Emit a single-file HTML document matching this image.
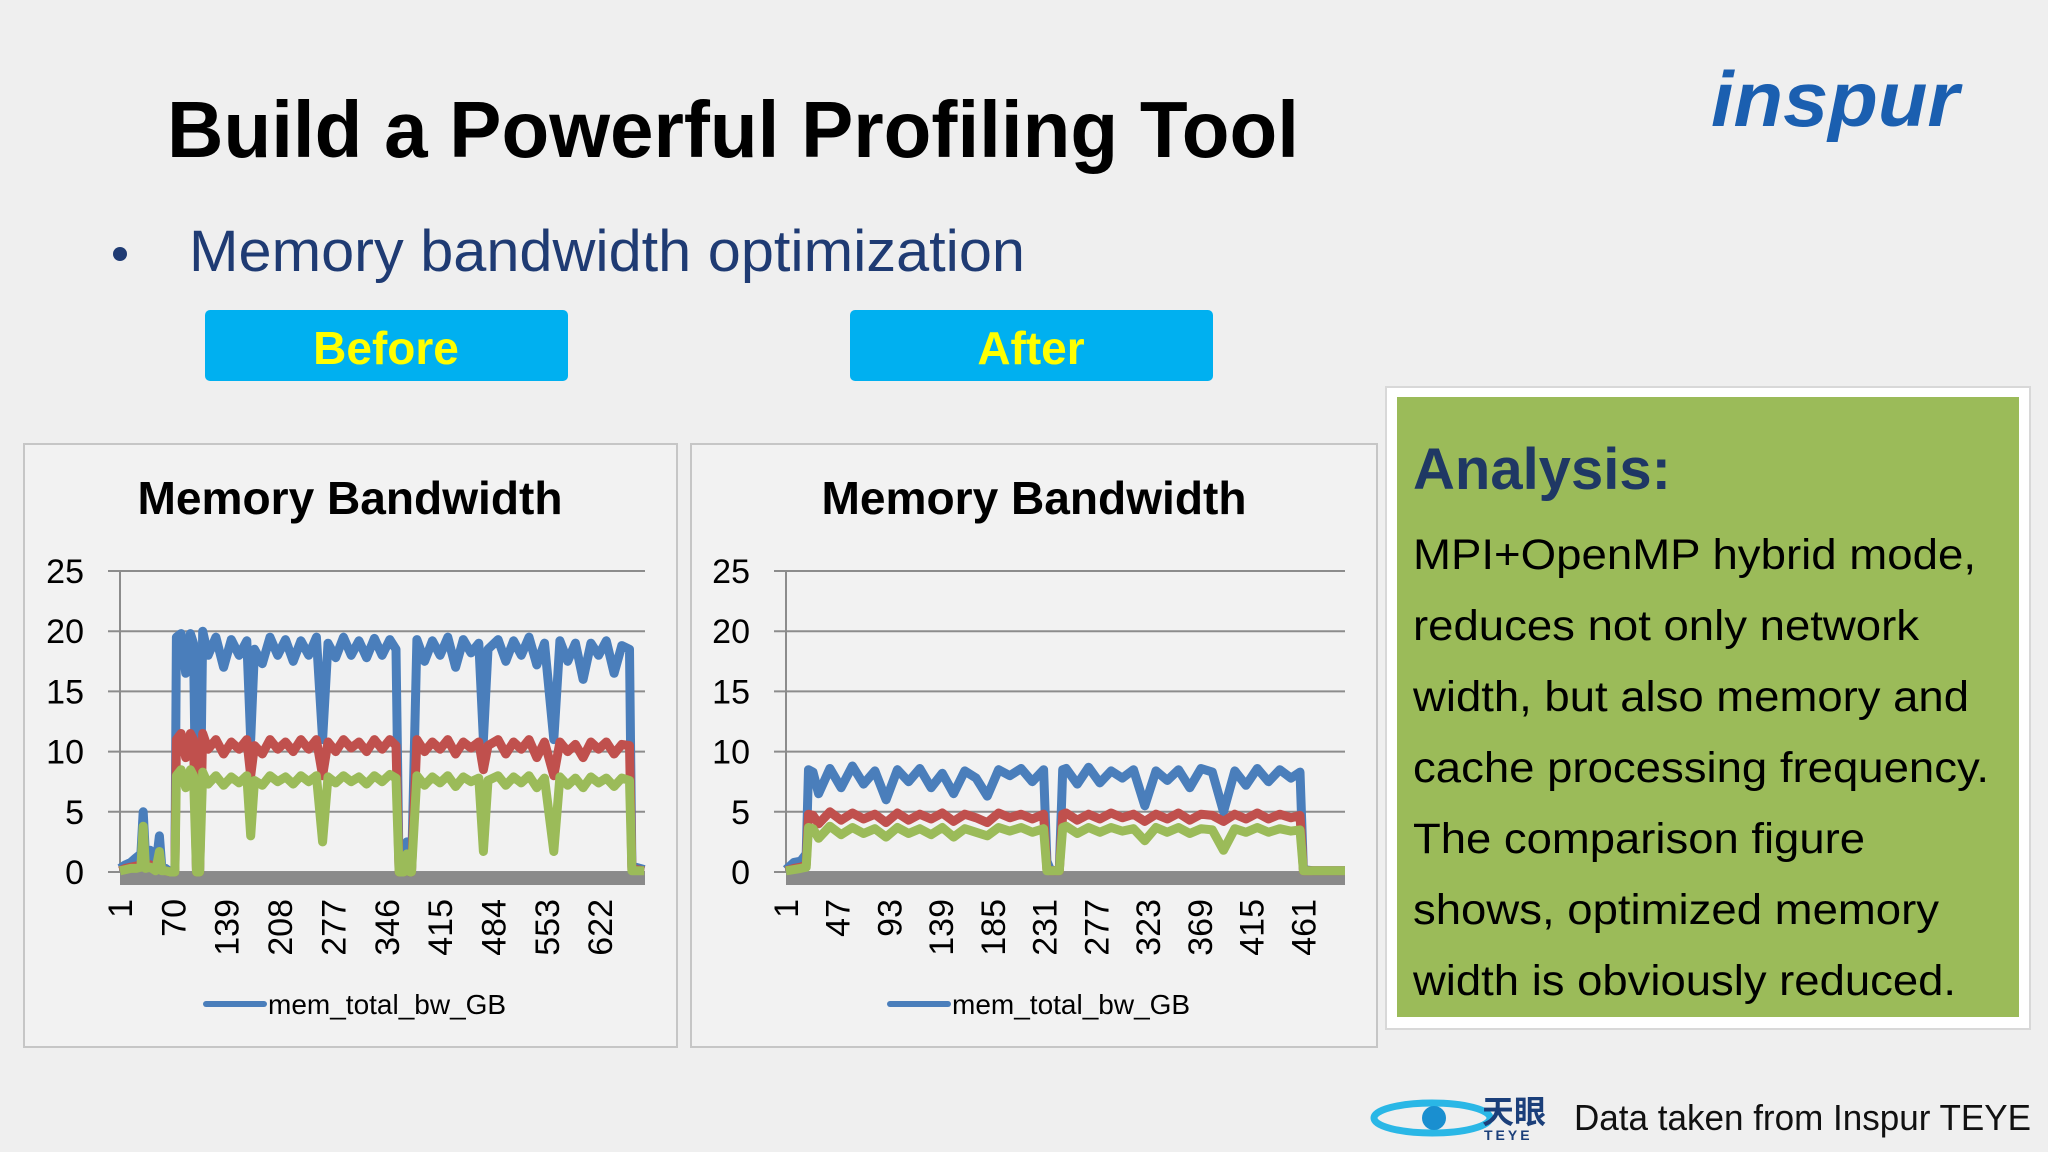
<!DOCTYPE html>
<html><head><meta charset="utf-8"><style>
html,body{margin:0;padding:0;background:#efefef}
svg{display:block}
</style></head><body>
<svg xmlns="http://www.w3.org/2000/svg" width="2048" height="1152" viewBox="0 0 2048 1152">
<rect x="0" y="0" width="2048" height="1152" fill="#efefef"/>
<text x="167" y="157" font-family="Liberation Sans, sans-serif" font-weight="bold" font-size="80" fill="#000" textLength="1132" lengthAdjust="spacingAndGlyphs">Build a Powerful Profiling Tool</text>
<g>
<text x="1711" y="126" font-family="Liberation Sans, sans-serif" font-weight="bold" font-style="italic" font-size="78" fill="#1b5fb0" textLength="248" lengthAdjust="spacingAndGlyphs">inspur</text>
</g>
<circle cx="120" cy="254" r="7" fill="#1f3b73"/>
<text x="189" y="271" font-family="Liberation Sans, sans-serif" font-size="58" fill="#1f3b73" textLength="836" lengthAdjust="spacingAndGlyphs">Memory bandwidth optimization</text>
<g>
<rect x="205" y="310" width="363" height="71" rx="5" fill="#00b0f0"/>
<text x="386" y="364" text-anchor="middle" font-family="Liberation Sans, sans-serif" font-weight="bold" font-size="46" fill="#ffff00">Before</text>
</g>
<g>
<rect x="850" y="310" width="363" height="71" rx="5" fill="#00b0f0"/>
<text x="1031" y="364" text-anchor="middle" font-family="Liberation Sans, sans-serif" font-weight="bold" font-size="46" fill="#ffff00">After</text>
</g>
<rect x="24" y="444" width="653" height="603" fill="#f2f2f2" stroke="#c6c6c6" stroke-width="2"/>
<rect x="691" y="444" width="686" height="603" fill="#f2f2f2" stroke="#c6c6c6" stroke-width="2"/>
<g id="chartL"></g>
<g id="chartR"></g>
<g>
<rect x="1386" y="387" width="644" height="642" fill="#fff" stroke="#d8d8d8" stroke-width="2"/>
<rect x="1397" y="397" width="622" height="620" fill="#9bbb59"/>
<text x="1413" y="489" font-family="Liberation Sans, sans-serif" font-weight="bold" font-size="58" fill="#1f3864">Analysis:</text>
<g font-family="Liberation Sans, sans-serif" font-size="43" fill="#000">
<text x="1413" y="569" textLength="563" lengthAdjust="spacingAndGlyphs">MPI+OpenMP hybrid mode,</text>
<text x="1413" y="640" textLength="506" lengthAdjust="spacingAndGlyphs">reduces not only network</text>
<text x="1413" y="711" textLength="556" lengthAdjust="spacingAndGlyphs">width, but also memory and</text>
<text x="1413" y="782" textLength="576" lengthAdjust="spacingAndGlyphs">cache processing frequency.</text>
<text x="1413" y="853" textLength="452" lengthAdjust="spacingAndGlyphs">The comparison figure</text>
<text x="1413" y="924" textLength="526" lengthAdjust="spacingAndGlyphs">shows, optimized memory</text>
<text x="1413" y="995" textLength="543" lengthAdjust="spacingAndGlyphs">width is obviously reduced.</text>
</g>
</g>
<g>
<ellipse cx="1432" cy="1118" rx="58" ry="15" fill="none" stroke="#2ab7e6" stroke-width="7"/>
<circle cx="1434" cy="1118" r="12" fill="#1a8fd0"/>
<text x="1482" y="1123" font-family="Noto Sans CJK SC, sans-serif" font-weight="bold" font-size="32" fill="#1b3f7a">天眼</text>
<text x="1484" y="1140" font-family="Liberation Sans, sans-serif" font-weight="bold" font-size="14" fill="#1b3f7a" letter-spacing="3">TEYE</text>
</g>
<text x="1574" y="1130" font-family="Liberation Sans, sans-serif" font-size="36" fill="#111" textLength="457" lengthAdjust="spacingAndGlyphs">Data taken from Inspur TEYE</text>
</svg>
<script>
// ---- Before chart data ----
const xL=[1,8,15,22,28,31,34,40,47,52,55,60,66,72,74,80,86,92,96,100,104,108,115,125,135,145,155,165,170,175,185,195,205,215,225,235,245,255,263,270,280,290,300,310,320,330,340,350,358,362,368,372,376,378,385,395,405,415,425,435,445,455,465,471,477,490,500,510,520,530,540,550,562,570,580,590,600,610,620,630,640,650,660,663,668,679];
const blueL=[0.3,0.6,0.8,1.2,1.5,5,1.3,1.8,0.3,3,0.4,0.3,0,0,19.5,19.8,16.5,19.8,19,0,0,20,18,19.5,17,19.3,18,19.2,11,18.5,17.3,19.5,18,19.3,17.5,19.2,18,19.5,11,19,17.8,19.5,18,19.2,17.8,19.4,18,19.3,18.5,0,0,2.5,0,0,19.3,17.5,19.2,18,19.5,17,19.3,18.2,19,11,18.5,19.3,17.5,19.2,18,19.5,17.2,19,11,19.2,17.5,19,16,19,18,19.2,16.5,18.8,18.5,0.4,0.4,0.2];
const redL=[0.1,0.3,0.4,0.5,0.6,1.5,0.4,0.6,0.2,1.0,0.2,0.1,0,0,11,11.5,9.5,11.5,11,0,0,11.5,10.2,11,9.8,10.8,10.2,11,8,10.5,9.8,11,10.2,10.8,10,11,10.2,11,8,10.8,10,11,10.3,10.8,10,11,10.2,11,10.5,0,0,1,0,0,11,10,10.8,10.2,11,9.8,10.8,10.3,10.8,8.5,10.5,11,9.8,10.8,10.2,11,9.5,10.8,8,10.8,10,10.6,9.5,10.8,10.2,10.8,9.8,10.6,10.5,0.2,0.2,0.1];
const greenL=[0.1,0.2,0.3,0.3,0.4,3.8,0.3,0.4,0.1,1.7,0.1,0.1,0,0,8,8.5,7,8.5,8,0,0,8.3,7.3,8,7.2,7.9,7.4,8,3,7.6,7.2,8,7.5,7.9,7.3,8,7.5,8,2.5,7.9,7.4,8,7.5,7.9,7.3,8,7.5,8.1,7.8,0,0,1.5,0,0,8,7.2,7.9,7.4,8,7.1,7.9,7.5,7.8,1.7,7.6,8,7.2,7.9,7.4,8,7,7.8,1.7,7.9,7.2,7.8,7,7.9,7.4,7.8,7.1,7.8,7.6,0.1,0.1,0.1];
const ticksL=["1","70","139","208","277","346","415","484","553","622"];
const tickValsL=[1,70,139,208,277,346,415,484,553,622];
// ---- After chart data ----
const xR=[1,8,14,19,21,25,30,40,50,60,70,80,90,100,110,120,130,140,150,160,170,180,190,200,210,220,230,233,236,240,244,247,250,260,270,280,290,300,310,320,330,340,350,360,370,380,390,400,410,420,430,440,450,458,461,470,480,498];
const blueR=[0.2,0.8,0.9,1.5,8.5,8.3,6.5,8.6,7,8.8,7.3,8.4,6,8.5,7.5,8.6,7,8.2,6.5,8.4,7.8,6.3,8.5,8,8.6,7.5,8.5,0.9,0.2,0.1,0.2,8.5,8.6,7.3,8.7,7.4,8.4,7.8,8.5,5.5,8.4,7.6,8.5,7,8.6,8.3,5,8.4,7.2,8.6,7.5,8.5,7.8,8.3,0.2,0.1,0.1,0.1];
const redR=[0.1,0.3,0.4,0.6,4.8,4.7,4,5,4.3,4.9,4.4,4.8,4.1,4.9,4.3,4.8,4.4,4.9,4.2,4.8,4.5,4.1,4.9,4.5,4.8,4.4,4.8,0.2,0.1,0.1,0.1,4.8,4.9,4.3,4.8,4.4,4.9,4.5,4.8,4.2,4.8,4.4,4.9,4.3,4.8,4.7,4.2,4.8,4.4,4.9,4.4,4.8,4.5,4.7,0.1,0.1,0.1,0.1];
const greenR=[0.1,0.2,0.3,0.4,3.7,3.6,2.8,3.8,3.1,3.7,3.2,3.6,2.9,3.7,3.2,3.6,3.1,3.7,2.9,3.6,3.3,3,3.7,3.4,3.7,3.3,3.6,0.1,0.1,0.1,0.1,3.7,3.8,3.2,3.7,3.3,3.7,3.4,3.6,2.6,3.7,3.3,3.7,3.2,3.6,3.5,1.8,3.6,3.3,3.7,3.3,3.6,3.4,3.5,0.1,0.1,0.1,0.1];
const ticksR=["1","47","93","139","185","231","277","323","369","415","461"];
const tickValsR=[1,47,93,139,185,231,277,323,369,415,461];
const yTicks=[0,5,10,15,20,25];

const NS="http://www.w3.org/2000/svg";
function mk(parent,tag,attrs){const e=document.createElementNS(NS,tag);for(const k in attrs)e.setAttribute(k,attrs[k]);parent.appendChild(e);return e;}

function drawChart(gid,cfg){
  const g=document.getElementById(gid);
  const xS=v=>cfg.ax+(v-cfg.x0)/(cfg.x1-cfg.x0)*(cfg.pr-cfg.ax);
  const yS=v=>cfg.y0px-(v/25)*(cfg.y0px-cfg.y25px);
  const t=mk(g,'text',{x:cfg.titleX,y:514,'text-anchor':'middle','font-family':'Liberation Sans, sans-serif','font-weight':'bold','font-size':'46',fill:'#000',textLength:'425',lengthAdjust:'spacingAndGlyphs'});
  t.textContent='Memory Bandwidth';
  
  
  yTicks.forEach(v=>{
    const l=mk(g,'line',{x1:cfg.gl,x2:cfg.pr,y1:yS(v),y2:yS(v),stroke:'#8c8c8c','stroke-width':'2'});
    
    
    const tx=mk(g,'text',{x:cfg.ax-36,y:yS(v)+12,'text-anchor':'end','font-family':'Liberation Sans, sans-serif','font-size':'34',fill:'#000'});
    tx.textContent=String(v);
    
    
  });
  const ax=mk(g,'line',{x1:cfg.ax,x2:cfg.ax,y1:yS(25),y2:yS(0),stroke:'#8c8c8c','stroke-width':'2'});
  
  
  const band=mk(g,'rect',{x:cfg.ax,y:yS(0),width:cfg.pr-cfg.ax,height:13,fill:'#8a8a8a'});
  
  
  cfg.tickVals.forEach((v,i)=>{
    const x=xS(v);
    const tx=mk(g,'text',{transform:`translate(${x+12},899) rotate(-90)`,'text-anchor':'end','font-family':'Liberation Sans, sans-serif','font-size':'34',fill:'#000'});
    tx.textContent=cfg.tickLabels[i];
    
    
  });
  [[cfg.blue,'#4a7ebb','series-total-bw'],[cfg.red,'#c0504d','series-read-bw'],[cfg.green,'#9bbb59','series-write-bw']].forEach(([vals,col,nm])=>{
    const d=vals.map((v,i)=>(i?'L':'M')+xS(cfg.xs[i]).toFixed(1)+','+yS(v).toFixed(1)).join('');
    const p=mk(g,'path',{d:d,fill:'none',stroke:col,'stroke-width':'9','stroke-linejoin':'round'});
    
    
  });
  const lg=mk(g,'g',{});
  
  
  mk(lg,'line',{x1:cfg.legX,x2:cfg.legX+58,y1:1004,y2:1004,stroke:'#4a7ebb','stroke-width':'6','stroke-linecap':'round'});
  const lt=mk(lg,'text',{x:cfg.legX+62,y:1014,'font-family':'Liberation Sans, sans-serif','font-size':'28',fill:'#000'});
  lt.textContent='mem_total_bw_GB';
}
drawChart('chartL',{ax:120,gl:108,pr:645,x0:1,x1:680,y0px:872,y25px:571,titleX:350,legX:206,xs:xL,blue:blueL,red:redL,green:greenL,tickVals:tickValsL,tickLabels:ticksL});
drawChart('chartR',{ax:786,gl:774,pr:1345,x0:1,x1:498,y0px:872,y25px:571,titleX:1034,legX:890,xs:xR,blue:blueR,red:redR,green:greenR,tickVals:tickValsR,tickLabels:ticksR});
</script>
</body></html>
